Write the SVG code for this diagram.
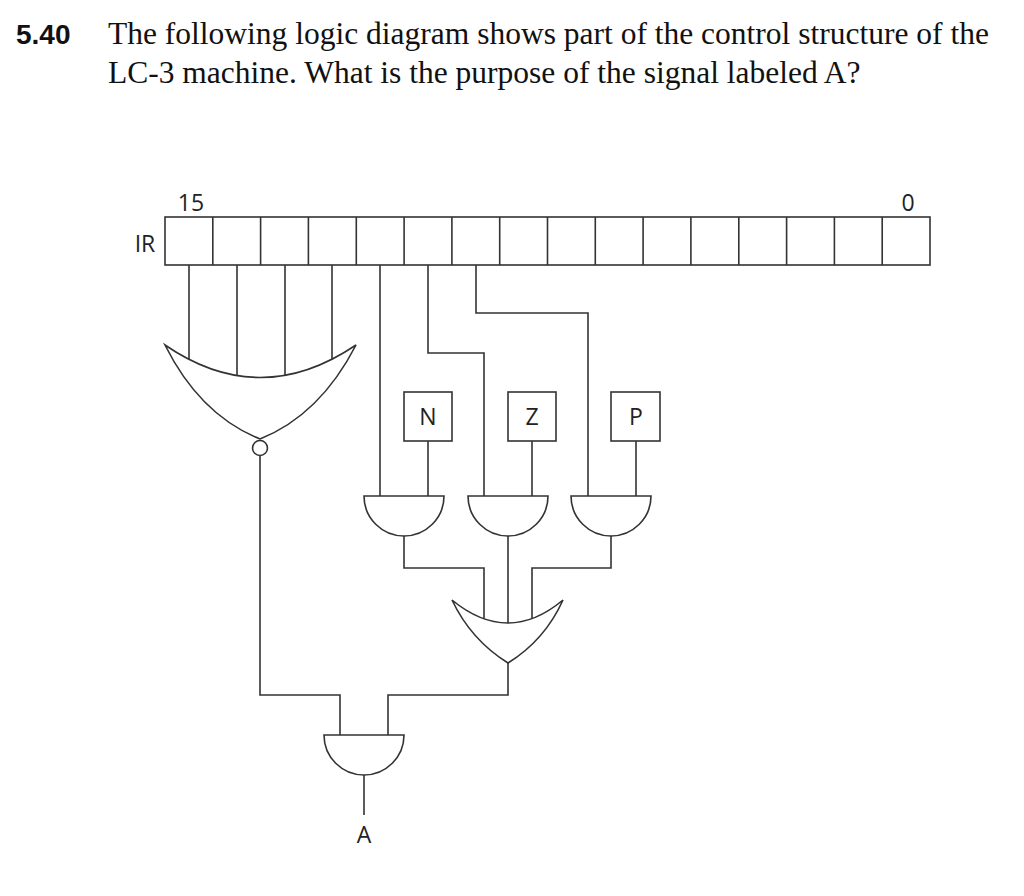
<svg xmlns="http://www.w3.org/2000/svg" width="1024" height="896" viewBox="0 0 1024 896">
<style>
.w{fill:none;stroke:#333;stroke-width:1.6}
.g{fill:#fff;stroke:#333;stroke-width:1.6}
.l{font-family:"Open Sans","Liberation Sans",sans-serif;font-size:23px;fill:#222}
.t{font-family:"Liberation Serif",serif;font-size:31.5px;fill:#111}
</style>
<rect width="1024" height="896" fill="#fff"/>
<text x="16" y="44" font-family="Liberation Sans,sans-serif" font-weight="bold" font-size="28" fill="#111">5.40</text>
<text class="t" x="108" y="44">The following logic diagram shows part of the control structure of the</text>
<text class="t" x="108" y="83">LC-3 machine. What is the purpose of the signal labeled A?</text>
<g id="connectors">
<path class="w" d="M189 265V380M237 265V377M285 265V377M332 265V380"/>
<path class="w" d="M380 265V496M428 265V353H484V496M476 265V313H588V496"/>
<path class="w" d="M428 441V496M532 441V496M636 441V496"/>
<path class="w" d="M404 536V568H484V622M508 536V624M611 536V568H532V622"/>
<path class="w" d="M508 663V695H388V735M260 456V695H340V735M364 775V815"/>
</g>
<g id="IR">
<rect class="w" x="165" y="217" width="765" height="48"/>
<path class="w" d="M212.8 217v48M260.6 217v48M308.4 217v48M356.3 217v48M404.1 217v48M451.9 217v48M499.7 217v48M547.5 217v48M595.3 217v48M643.1 217v48M690.9 217v48M738.8 217v48M786.6 217v48M834.4 217v48M882.2 217v48"/>
<text class="l" x="145" y="252" text-anchor="middle">IR</text>
<text class="l" x="191" y="211" text-anchor="middle">15</text>
<text class="l" x="908" y="211" text-anchor="middle">0</text>
</g>
<g id="nor">
<path class="g" d="M165 345Q260 410 356 345Q320 415 260 439Q200 415 165 345Z"/>
<circle class="g" cx="260" cy="448" r="7.5"/>
</g>
<g id="N"><rect class="w" x="404" y="392" width="48" height="49"/><text class="l" x="428" y="425" text-anchor="middle">N</text></g>
<g id="Z"><rect class="w" x="508" y="392" width="48" height="49"/><text class="l" x="532" y="425" text-anchor="middle">Z</text></g>
<g id="P"><rect class="w" x="611" y="392" width="49" height="49"/><text class="l" x="636" y="425" text-anchor="middle">P</text></g>
<g id="andN"><path class="g" d="M364 496H444A40 40 0 0 1 364 496Z"/></g>
<g id="andZ"><path class="g" d="M468 496H548A40 40 0 0 1 468 496Z"/></g>
<g id="andP"><path class="g" d="M571 496H651A40 40 0 0 1 571 496Z"/></g>
<g id="or"><path class="g" d="M452 600Q508 646 563 600Q545 640 508 663Q471 640 452 600Z"/></g>
<g id="andA"><path class="g" d="M324 735H404A40 40 0 0 1 324 735Z"/></g>
<text class="l" x="364" y="843" text-anchor="middle">A</text>
</svg>
